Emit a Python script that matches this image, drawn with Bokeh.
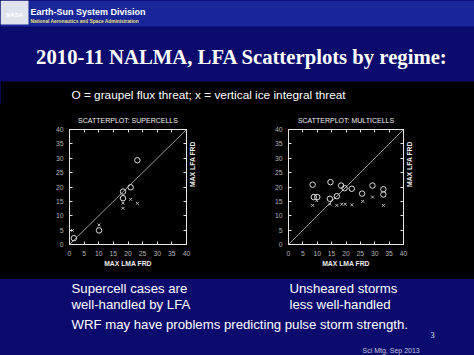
import math
from bokeh.plotting import figure
from bokeh.layouts import column, row
from bokeh.models import Range1d, Label, BoxAnnotation, LinearAxis, SingleIntervalTicker
from bokeh.embed import file_html
from bokeh.resources import INLINE

# ---------------- data ----------------
super_circ_x = [1.5, 10.1, 18.3, 18.3, 20.9, 23.2]
super_circ_y = [2.2, 4.9, 18.4, 16.1, 19.9, 29.3]
super_x_x = [1.0, 10.1, 18.3, 18.3, 20.9, 23.2]
super_x_y = [4.9, 6.8, 14.4, 12.6, 15.7, 14.3]

multi_circ_x = [8.4, 8.8, 10.0, 14.6, 14.4, 16.8, 18.3, 19.5, 22.0, 25.6, 29.2, 33.0, 33.0]
multi_circ_y = [20.8, 16.5, 16.5, 21.7, 15.9, 16.8, 20.5, 19.6, 19.4, 17.7, 20.5, 19.2, 17.4]
multi_x_x = [8.4, 9.8, 14.4, 16.8, 18.5, 19.7, 22.0, 25.8, 29.2, 33.0]
multi_x_y = [13.6, 15.3, 14.0, 13.6, 14.0, 14.0, 13.8, 15.0, 16.5, 13.6]

diag = [0, 40]
axis_min, axis_max, tick_step = 0, 40, 5

NAVY = "#0b0b6e"
SANS = "Liberation Sans"
SERIF = "Liberation Serif"


def blank(width, height, y0, y1):
    p = figure(width=width, height=height, x_range=Range1d(0, width), y_range=Range1d(y1, y0),
               min_border=0, toolbar_location=None, output_backend="svg",
               x_axis_location=None, y_axis_location=None)
    p.grid.visible = False
    p.outline_line_color = None
    p.background_fill_color = NAVY
    p.border_fill_color = NAVY
    p.styles = {"background-color": NAVY}
    return p


# ---------------- top: header + title + legend line ----------------
top = blank(474, 104, 0, 104)
top.add_layout(BoxAnnotation(left=0, right=474, top=0, bottom=26, fill_color="#18269a",
                             fill_alpha=1, line_color=None))
top.add_layout(BoxAnnotation(left=0, right=474, top=81, bottom=105, fill_color="black",
                             fill_alpha=1, line_color=None))
# NASA logo
top.add_layout(BoxAnnotation(left=0, right=28, top=0, bottom=24, fill_color="#dfe3ee",
                             fill_alpha=1, line_color=None))
logo_cx, logo_cy = [14], [12]
top.circle(x=logo_cx, y=logo_cy, radius=9.5, fill_color="#1f3fb0", line_color=None)
swoosh_x = [3, 10, 18, 27]
swoosh_y = [17, 13.5, 9, 3]
top.line(x=swoosh_x, y=swoosh_y, line_color="#e0262a", line_width=2)
top.add_layout(Label(x=14, y=14.5, text="NASA", text_font=SANS, text_font_style="bold",
                     text_font_size="6px", text_color="white", text_align="center",
                     text_baseline="alphabetic"))
top.add_layout(Label(x=30, y=11.5, text="Earth-Sun System Division", text_font=SANS,
                     text_font_style="bold", text_font_size="9px", text_color="white",
                     text_baseline="alphabetic"))
top.add_layout(Label(x=30, y=20.5, text="National Aeronautics and Space Administration",
                     text_font=SANS, text_font_style="bold", text_font_size="4.8px",
                     text_color="#eee27a", text_baseline="alphabetic"))
top.add_layout(Label(x=241.5, y=56, text="2010-11 NALMA, LFA Scatterplots by regime:",
                     text_font=SERIF, text_font_style="bold", text_font_size="20.7px",
                     text_color="white", text_align="center", text_baseline="alphabetic"))
top.add_layout(Label(x=71, y=94.5, text="O = graupel flux threat; x = vertical ice integral threat",
                     text_font=SANS, text_font_size="11.8px", text_color="white",
                     text_baseline="alphabetic"))


# ---------------- scatter panels ----------------
def scatter_panel(title, cx, cy, xx, xy, width, left, right):
    p = figure(width=width, height=175,
               x_range=Range1d(axis_min, axis_max), y_range=Range1d(axis_min, axis_max),
               min_border_left=left, min_border_right=right, min_border_top=25,
               min_border_bottom=35, toolbar_location=None, output_backend="svg",
               title=title, x_axis_label="MAX LMA FRD")
    p.background_fill_color = "black"
    p.border_fill_color = "black"
    p.styles = {"background-color": "black"}
    p.outline_line_color = "#e6e6e6"
    p.outline_line_width = 1
    p.grid.visible = False
    p.title.text_color = "#eeeeee"
    p.title.text_font = SANS
    p.title.text_font_size = "7px"
    p.title.text_font_style = "normal"
    p.title.align = "center"
    p.title.standoff = 4

    ticker = SingleIntervalTicker(interval=tick_step)
    for ax in (p.xaxis[0], p.yaxis[0]):
        ax.ticker = ticker
        ax.axis_line_color = "#e6e6e6"
        ax.major_tick_line_color = "#e6e6e6"
        ax.major_tick_in = 3
        ax.major_tick_out = 0
        ax.minor_tick_line_color = None
        ax.major_label_text_color = "#b4b4b4"
        ax.major_label_text_font = SANS
        ax.major_label_text_font_size = "6.8px"
        ax.major_label_standoff = 2
    p.xaxis.axis_label_text_font = SANS
    p.xaxis.axis_label_text_font_size = "6.8px"
    p.xaxis.axis_label_text_font_style = "bold"
    p.xaxis.axis_label_text_color = "#eeeeee"
    p.xaxis.axis_label_standoff = 1

    for loc in ("right", "above"):
        ax = LinearAxis(ticker=SingleIntervalTicker(interval=tick_step))
        ax.axis_line_color = "#e6e6e6"
        ax.major_tick_line_color = "#e6e6e6"
        ax.major_tick_in = 3
        ax.major_tick_out = 0
        ax.minor_tick_line_color = None
        ax.major_label_text_font_size = "1px"
        ax.major_label_text_color = None
        ax.major_label_standoff = 0
        if loc == "right":
            ax.axis_label = "MAX LFA FRD"
            ax.axis_label_text_font = SANS
            ax.axis_label_text_font_size = "6.8px"
            ax.axis_label_text_font_style = "bold"
            ax.axis_label_text_color = "#eeeeee"
            ax.axis_label_standoff = 2
            try:
                ax.axis_label_orientation = math.pi / 2
            except Exception:
                pass
        p.add_layout(ax, loc)

    p.line(x=diag, y=diag, line_color="#9a9a9a", line_width=1)
    p.scatter(x=cx, y=cy, marker="circle", size=5.5, fill_color=None,
              line_color="#dddddd", line_width=1)
    p.scatter(x=xx, y=xy, marker="x", size=4, line_color="#bbbbbb", line_width=1)
    return p


s1 = scatter_panel("SCATTERPLOT: SUPERCELLS", super_circ_x, super_circ_y,
                   super_x_x, super_x_y, 237, 69, 51)
s2 = scatter_panel("SCATTERPLOT: MULTICELLS", multi_circ_x, multi_circ_y,
                   multi_x_x, multi_x_y, 237, 51, 71)

# ---------------- bottom text ----------------
bot = blank(474, 76, 279, 355)
for txt, x, y in [("Supercell cases are", 71, 288),
                  ("well-handled by LFA", 71, 304),
                  ("Unsheared storms", 289, 288),
                  ("less well-handled", 289, 304),
                  ("WRF may have problems predicting pulse storm strength.", 71, 324)]:
    bot.add_layout(Label(x=x, y=y, text=txt, text_font=SANS, text_font_size="13.2px",
                         text_color="white", text_baseline="alphabetic"))
bot.add_layout(Label(x=432, y=334, text="3", text_font=SERIF, text_font_size="7.5px",
                     text_color="white", text_align="center", text_baseline="alphabetic"))
bot.add_layout(Label(x=362, y=350, text="Sci Mtg, Sep 2013", text_font=SANS,
                     text_font_size="7px", text_color="#c4c4dc", text_baseline="alphabetic"))

mid = row(s1, s2, spacing=0)
mid.styles = {"background-color": "black"}
layout = column(top, mid, bot, spacing=0)
layout.styles = {"background-color": NAVY}
open("out.html", "w").write(file_html(layout, INLINE))
